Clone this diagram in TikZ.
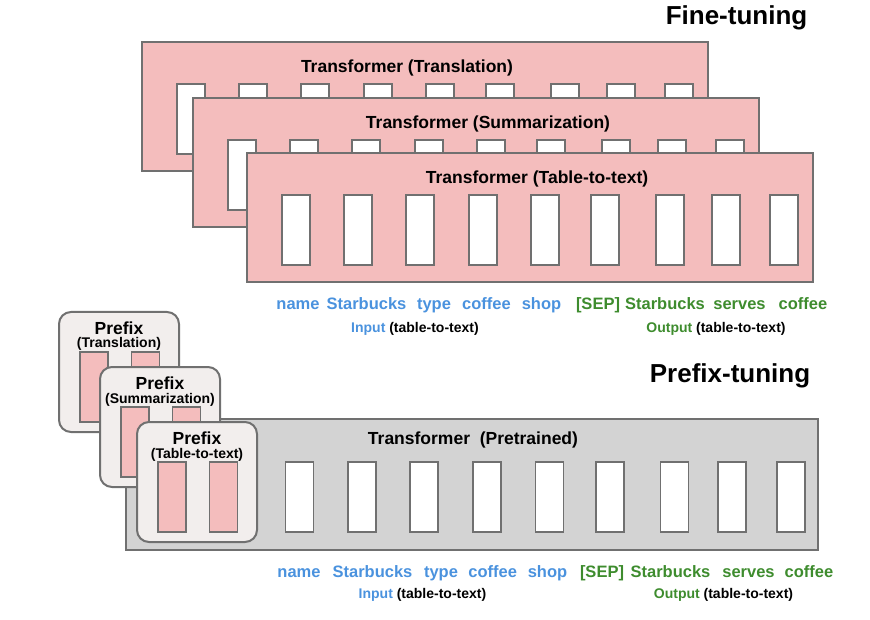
\documentclass[tikz,border=0pt]{standalone}
\usepackage{fontspec}
\setmainfont{Liberation Sans}
\definecolor{tfpink}{RGB}{244,189,189}
\definecolor{tfgray}{RGB}{211,211,211}
\definecolor{pfgray}{RGB}{242,238,237}
\definecolor{edgegray}{RGB}{112,112,112}
\definecolor{inblue}{RGB}{74,146,222}
\definecolor{outgreen}{RGB}{62,140,46}
\tikzset{
  tfbox/.style={draw=edgegray,line width=2pt},
  slot/.style={draw=edgegray,line width=1.5pt},
  heading/.style={font=\bfseries\fontsize{26}{30}\selectfont,anchor=base,inner sep=0pt},
  tftitle/.style={font=\bfseries\fontsize{17.5}{20}\selectfont,anchor=base,inner sep=0pt},
  word/.style={font=\bfseries\fontsize{16.5}{19}\selectfont,anchor=base,inner sep=0pt},
  tag/.style={font=\bfseries\fontsize{14}{16}\selectfont,anchor=base,inner sep=0pt},
}
\begin{document}
\begin{tikzpicture}[x=1pt,y=-1pt]
\useasboundingbox (0,0) rectangle (870,620);
\node[heading] (fine) at (736.5,24.5) {Fine-tuning};
% fine-tuning: one whole transformer per task
\foreach \i/\fx/\fy/\tx/\task in {1/142/42/407/Translation, 2/193/98/488/Summarization, 3/247/153/537/Table-to-text}{
  \draw[tfbox,fill=tfpink] (\fx,\fy) rectangle ++(566,129);
  \foreach \sx in {35,97,159,222,284,344,409,465,523}
    \draw[slot,fill=white] (\fx+\sx,\fy+42) rectangle ++(28,70);
  \node[tftitle] (tf\i) at (\tx,\fy+31) {Transformer (\task)};
}
\foreach \wx/\w/\c [count=\k] in {298/name/inblue, 366.5/Starbucks/inblue, 434/type/inblue, 486.5/coffee/inblue, 541.5/shop/inblue, 598/[SEP]/outgreen, 665/Starbucks/outgreen, 739.5/serves/outgreen, 803/coffee/outgreen}
  \node[word,text=\c] (ftw\k) at (\wx,309) {\w};
\node[tag] (ftin) at (415,333) {{\color{inblue}Input} (table-to-text)};
\node[tag] (ftout) at (716,333) {{\color{outgreen}Output} (table-to-text)};

% prefix-tuning: frozen transformer, one prefix per task
\node[heading] (pretune) at (730,382.5) {Prefix-tuning};
\draw[tfbox,fill=tfgray] (126,419) rectangle (818,550);
\foreach \sx in {159.5,222,284,347,409.5,470,534.5,592,651}
  \draw[slot,fill=white] (126+\sx,462) rectangle ++(28,70);
\node[tftitle] (tfpre) at (473,444.5) {Transformer\ \ (Pretrained)};
\foreach \i/\px/\py/\task in {1/59/312/Translation, 2/100/367/Summarization, 3/137/422/Table-to-text}{
  \draw[tfbox,fill=pfgray,rounded corners=12pt] (\px,\py) rectangle ++(120,120);
  \foreach \sx in {21,72.5}
    \draw[slot,fill=tfpink] (\px+\sx,\py+40) rectangle ++(28,70);
  \node[tftitle] (pf\i) at (\px+60,\py+22.5) {Prefix};
  \node[tag] (pfsub\i) at (\px+60,\py+36) {(\task)};
}
\foreach \wx/\w/\c [count=\k] in {299/name/inblue, 372.5/Starbucks/inblue, 441/type/inblue, 492.7/coffee/inblue, 547.5/shop/inblue, 602/[SEP]/outgreen, 670.5/Starbucks/outgreen, 748.5/serves/outgreen, 809/coffee/outgreen}
  \node[word,text=\c] (ptw\k) at (\wx,577) {\w};
\node[tag] (ptin) at (422.5,598) {{\color{inblue}Input} (table-to-text)};
\node[tag] (ptout) at (723.5,598) {{\color{outgreen}Output} (table-to-text)};
\end{tikzpicture}
\end{document}
